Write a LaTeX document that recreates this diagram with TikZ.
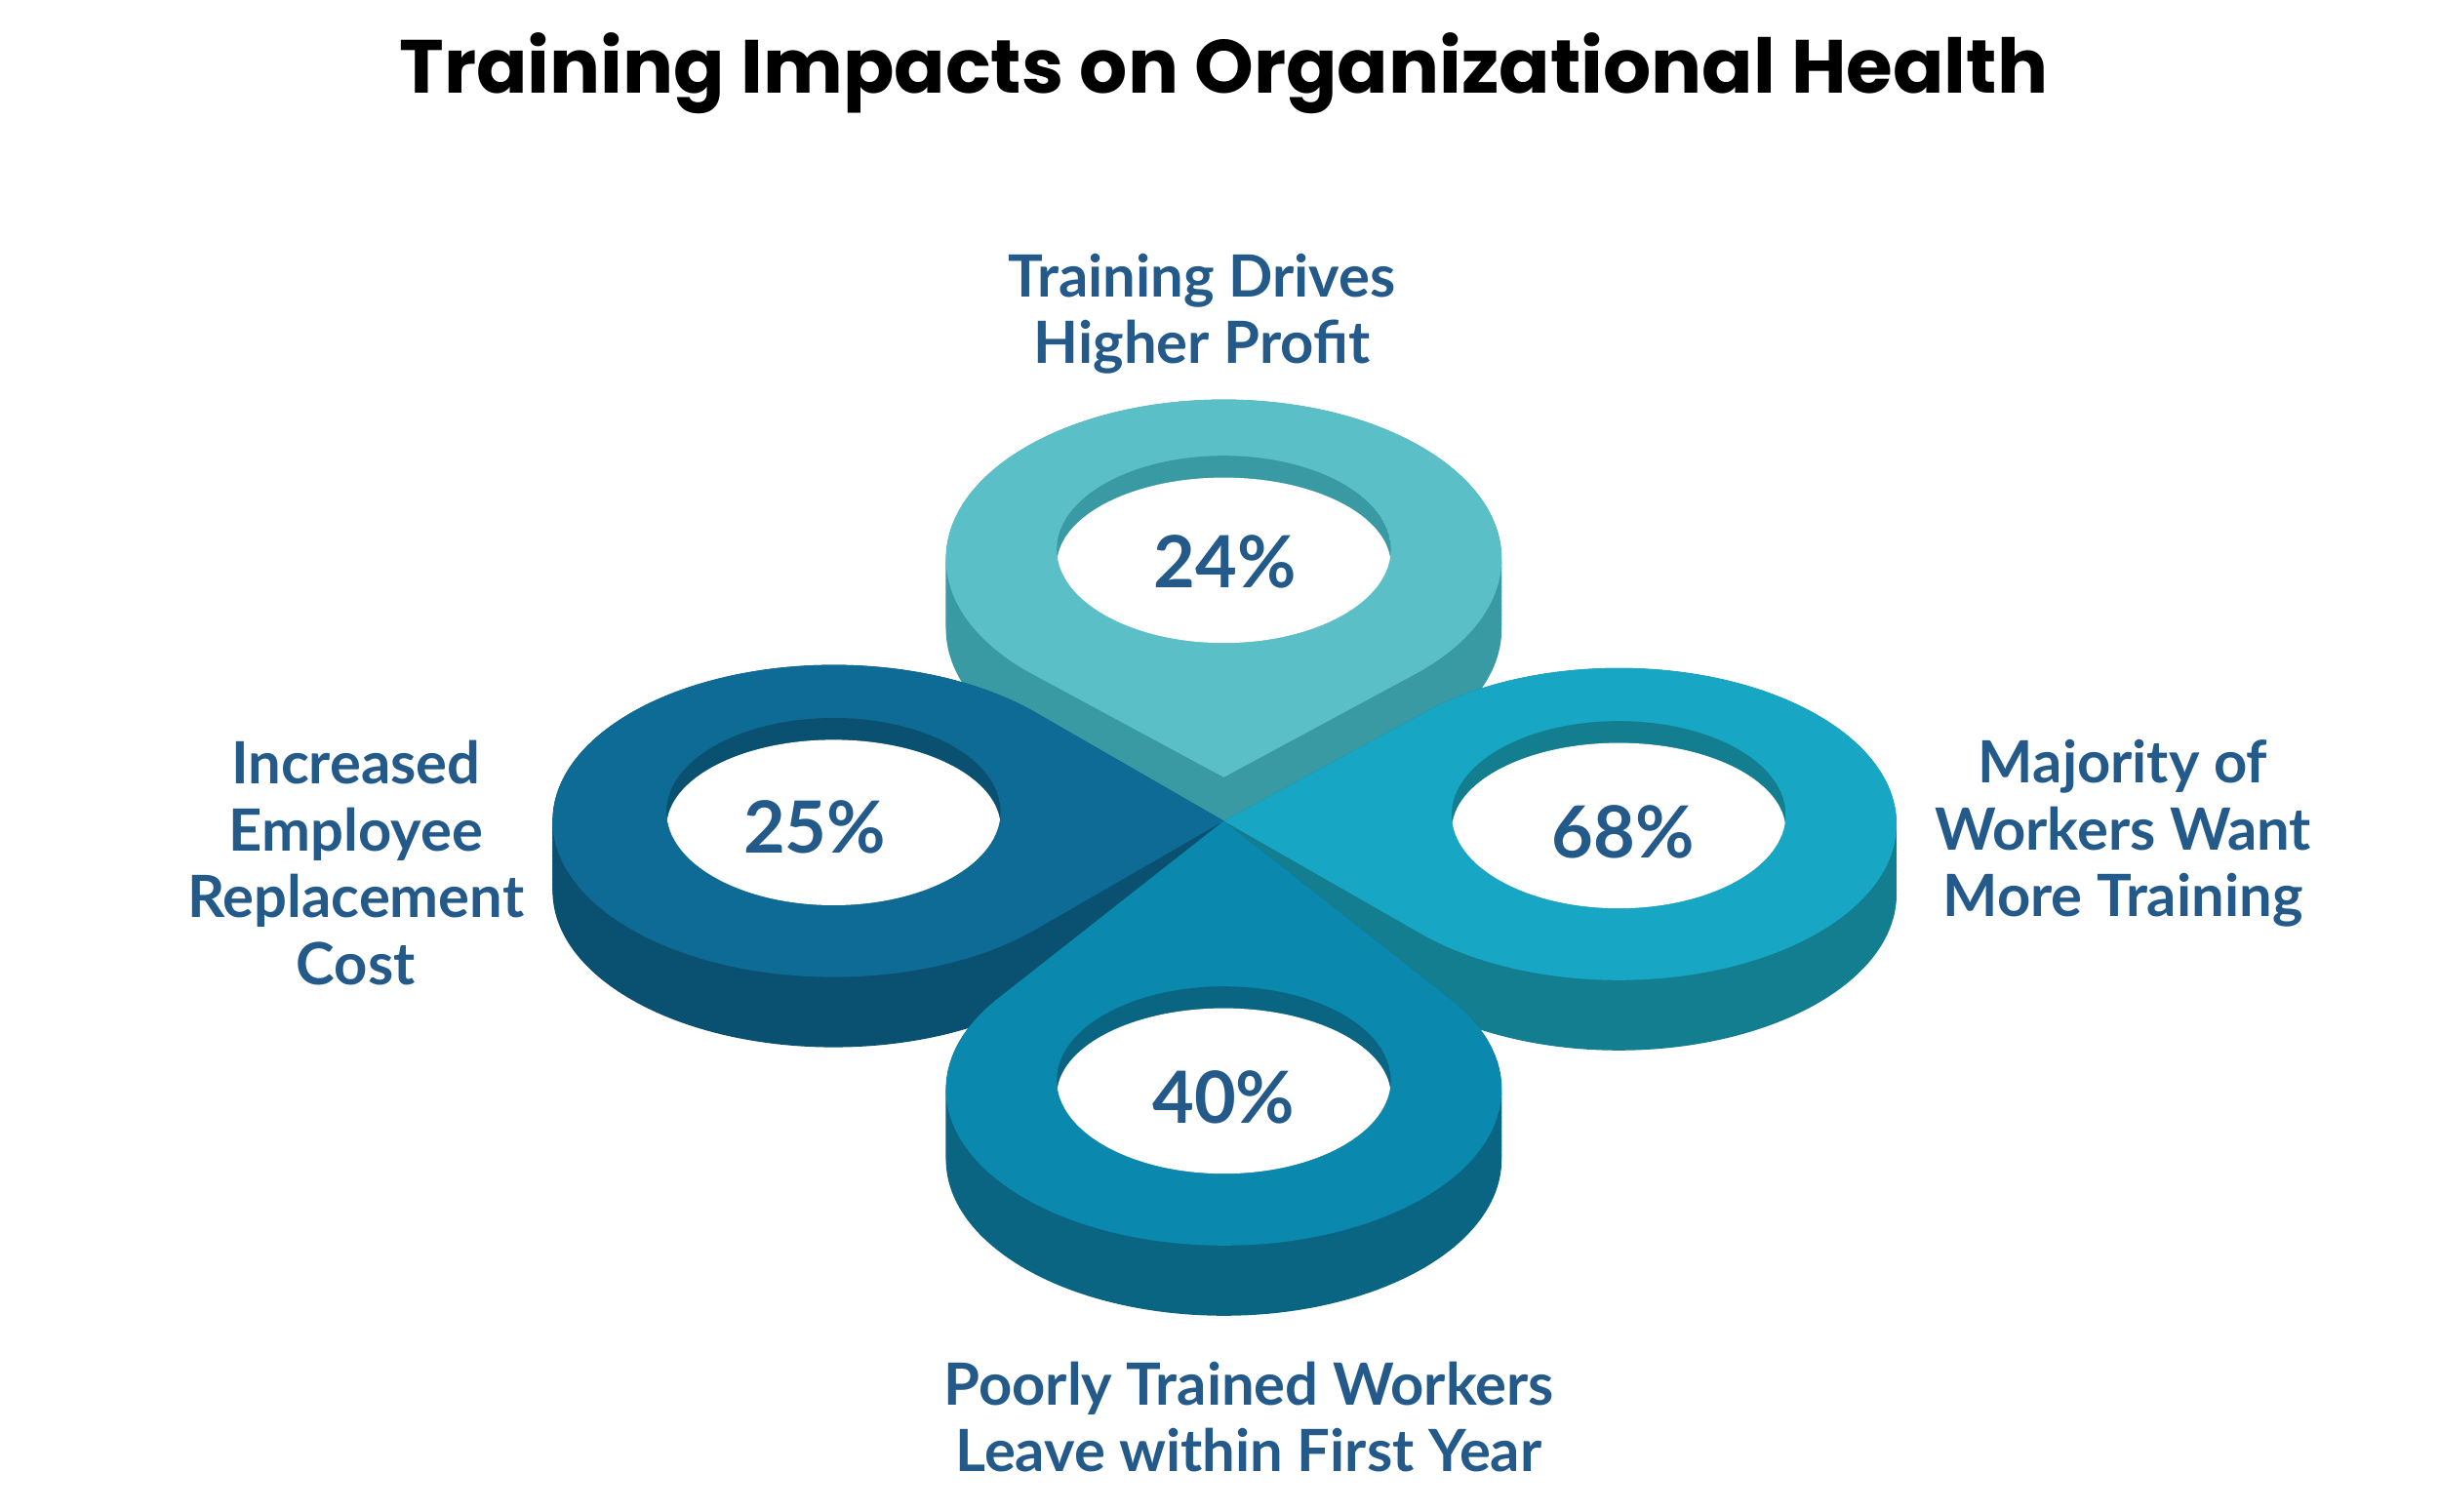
\documentclass[tikz,border=0pt]{standalone}
\usepackage{fontspec}
\setmainfont{Lato}
\newfontfamily\titlefont{Poppins}
\usetikzlibrary{calc}
\definecolor{txt}{HTML}{245A8A}
\definecolor{topface}{HTML}{5BBFC8}\definecolor{topside}{HTML}{3A9AA3}
\definecolor{leftface}{HTML}{0E6B96}\definecolor{leftside}{HTML}{0A5070}
\definecolor{rightface}{HTML}{17A6C4}\definecolor{rightside}{HTML}{137E90}
\definecolor{botface}{HTML}{0A88AE}\definecolor{botside}{HTML}{0A6582}
\tikzset{label text/.style={text=txt, font=\bfseries\fontsize{17}{19.5}\selectfont, align=center}}
\tikzset{pct text/.style={text=txt, font=\bfseries\fontsize{21}{24}\selectfont}}
% #1 cx #2 cy #3 rx #4 ry #5 tip angle #6 delta #7 tip
\newcommand{\dropshape}[7]{(#7) -- ($(#1,#2)+(#5+#6:#3 and #4)$) arc[start angle=#5+#6, end angle=#5-#6+360, x radius=#3, y radius=#4] -- cycle}
\newcommand{\dropsolid}[9]{%
  \foreach \d in {45,42,...,0} {\fill[#8, shift={(0,\d)}] \dropshape{#1}{#2}{#3}{#4}{#5}{#6}{#7};}
  \fill[#9] \dropshape{#1}{#2}{#3}{#4}{#5}{#6}{#7};
  \begin{scope}
    \clip (#1,#2-6) ellipse[x radius=107, y radius=60];
    \fill[#8] (#1,#2-6) ellipse[x radius=107, y radius=60];
    \fill[white] (#1,#2+4) ellipse[x radius=107, y radius=56];
  \end{scope}}
\begin{document}
\begin{tikzpicture}[x=0.016cm, y=-0.016cm]
\useasboundingbox (0,0) rectangle (1562.5,968.75);
\node[font=\titlefont\bfseries\fontsize{22}{26}\selectfont] (title) at (784,47) {Training Impacts on Organizational Health};
% drops
\dropsolid{784}{358}{178}{102}{90}{45}{784,498}{topside}{topface}
\dropsolid{534}{526}{180}{100}{0}{44}{784,526}{leftside}{leftface}
\dropsolid{1037}{528}{178}{100}{180}{44}{784,526}{rightside}{rightface}
\dropsolid{784}{698}{178}{100}{270}{54}{784,526}{botside}{botface}
% values
\node[pct text] (p24) at (785,360) {24\%};
\node[pct text] (p25) at (522,530) {25\%};
\node[pct text] (p68) at (1040,533) {68\%};
\node[pct text] (p40) at (784,703) {40\%};
% labels
\node[label text] (ltop) at (770,201) {Training Drives\\Higher Profit};
\node[label text] (lleft) at (228,553) {Increased\\Employee\\Replacement\\Cost};
\node[label text] (lright) at (1360,534) {Majority of\\Workers Want\\More Training};
\node[label text] (lbot) at (800,908) {Poorly Trained Workers\\Leave within First Year};
\end{tikzpicture}
\end{document}
